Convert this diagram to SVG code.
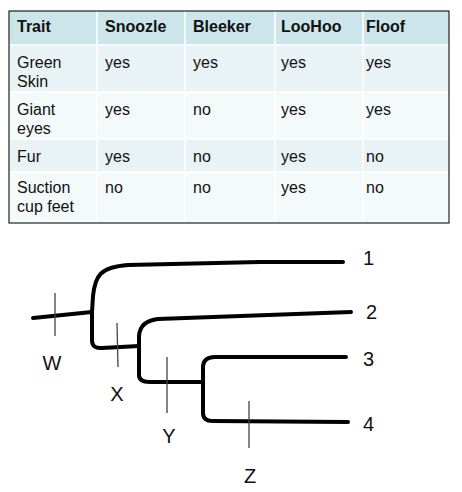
<svg xmlns="http://www.w3.org/2000/svg" width="462" height="492" viewBox="0 0 462 492">
<style>
.h{font-family:"Liberation Sans",Arial,sans-serif;font-size:16px;font-weight:bold;fill:#111}
.c{font-family:"Liberation Sans",Arial,sans-serif;font-size:16px;fill:#111}
.lbl{font-family:"Liberation Sans",Arial,sans-serif;font-size:20px;fill:#111}
.br{fill:none;stroke:#000;stroke-width:4;stroke-linecap:round;stroke-linejoin:round}
.tk{stroke:#444;stroke-width:1.3}
.sep{stroke:#fff;stroke-width:1.5}
</style>
<rect width="462" height="492" fill="#fff"/>
<g id="table">
<rect x="9" y="11" width="440" height="34" fill="#cbe5ea"/>
<rect x="9" y="45" width="440" height="47" fill="#e9f2f4"/>
<rect x="9" y="92" width="440" height="47" fill="#f4f9fa"/>
<rect x="9" y="139" width="440" height="33" fill="#e9f2f4"/>
<rect x="9" y="172" width="440" height="51" fill="#f4f9fa"/>
<line class="sep" x1="97" y1="11" x2="97" y2="223"/>
<line class="sep" x1="185" y1="11" x2="185" y2="223"/>
<line class="sep" x1="275" y1="11" x2="275" y2="223"/>
<line class="sep" x1="363" y1="11" x2="363" y2="223"/>
<line class="sep" x1="9" y1="45" x2="449" y2="45"/>
<line class="sep" x1="9" y1="92" x2="449" y2="92"/>
<line class="sep" x1="9" y1="139" x2="449" y2="139"/>
<line class="sep" x1="9" y1="172" x2="449" y2="172"/>
<rect x="9" y="11" width="440" height="212" fill="none" stroke="#222" stroke-width="1.2"/>
<text class="h" x="17" y="32">Trait</text>
<text class="h" x="105" y="32">Snoozle</text>
<text class="h" x="193" y="32">Bleeker</text>
<text class="h" x="281" y="32">LooHoo</text>
<text class="h" x="366" y="32">Floof</text>
<text class="c" x="17" y="68">Green</text>
<text class="c" x="17" y="87">Skin</text>
<text class="c" x="105" y="68">yes</text>
<text class="c" x="193" y="68">yes</text>
<text class="c" x="281" y="68">yes</text>
<text class="c" x="366" y="68">yes</text>
<text class="c" x="17" y="115">Giant</text>
<text class="c" x="17" y="134">eyes</text>
<text class="c" x="105" y="115">yes</text>
<text class="c" x="193" y="115">no</text>
<text class="c" x="281" y="115">yes</text>
<text class="c" x="366" y="115">yes</text>
<text class="c" x="17" y="162">Fur</text>
<text class="c" x="105" y="162">yes</text>
<text class="c" x="193" y="162">no</text>
<text class="c" x="281" y="162">yes</text>
<text class="c" x="366" y="162">no</text>
<text class="c" x="17" y="193">Suction</text>
<text class="c" x="17" y="212">cup feet</text>
<text class="c" x="105" y="193">no</text>
<text class="c" x="193" y="193">no</text>
<text class="c" x="281" y="193">yes</text>
<text class="c" x="366" y="193">no</text>
</g>
<g id="connectors">
<path class="br" d="M33,318 L92,312"/>
<path class="br" d="M92,312 L93,296 C95,276 100,267 128,265 L260,262 L343,262"/>
<path class="br" d="M92,312 L92,340 Q92,349 102,348 L139,346"/>
<path class="br" d="M139,346 L139,336 Q140,321 158,319 L351,312"/>
<path class="br" d="M139,346 L139,375 Q139,382 150,382 L203,382"/>
<path class="br" d="M203,382 L203,366 Q204,357 215,357 L346,357"/>
<path class="br" d="M203,382 L203,413 Q203,421 213,421 L348,422"/>
</g>
<g id="ticks">
<line class="tk" x1="55" y1="293" x2="55" y2="336"/>
<line class="tk" x1="117" y1="323" x2="118" y2="367"/>
<line class="tk" x1="167" y1="357" x2="167" y2="413"/>
<line class="tk" x1="249" y1="401" x2="249" y2="448"/>
</g>
<g id="labels">
<text class="lbl" x="52" y="370" text-anchor="middle">W</text>
<text class="lbl" x="117" y="401" text-anchor="middle">X</text>
<text class="lbl" x="169" y="443" text-anchor="middle">Y</text>
<text class="lbl" x="250" y="483" text-anchor="middle">Z</text>
<text class="lbl" x="363" y="265">1</text>
<text class="lbl" x="366" y="319">2</text>
<text class="lbl" x="363" y="366">3</text>
<text class="lbl" x="363" y="431">4</text>
</g>
</svg>
